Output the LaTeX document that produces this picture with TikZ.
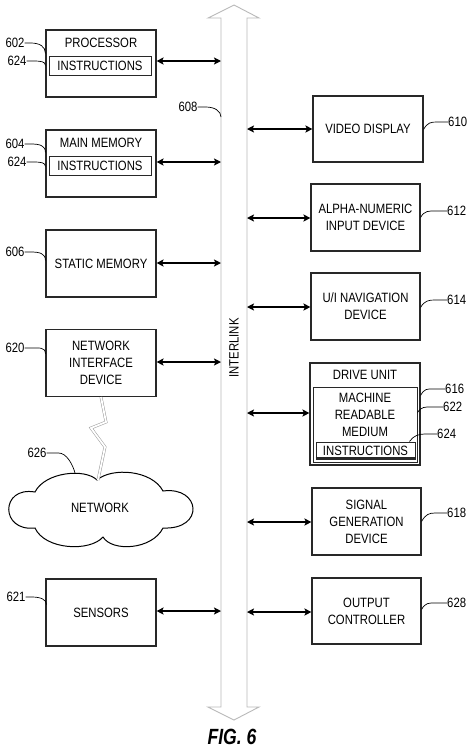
\documentclass[tikz,border=0pt]{standalone}
\usepackage{fontspec}
\setmainfont{Liberation Sans}[FakeStretch=0.84]
\newfontfamily\figfont{Liberation Sans}[FakeStretch=0.8]
\usetikzlibrary{arrows.meta,calc}
\definecolor{boxc}{RGB}{40,40,40}
\definecolor{busc}{RGB}{185,185,185}
\begin{document}
\begin{tikzpicture}[x=1pt,y=-1pt,
  every node/.style={font=\fontsize{13.5}{17}\selectfont, inner sep=0pt, text=black, align=center},
  blk/.style={draw=boxc, line width=1.1pt, minimum width=110pt, minimum height=67pt},
  rblk/.style={draw=boxc, line width=1.1pt, minimum width=109pt, minimum height=67pt},
  ibox/.style={draw=boxc, line width=1pt, minimum width=102pt, minimum height=19pt},
  leader/.style={draw=black, line width=0.7pt},
  biarrow/.style={line width=1.3pt, {Stealth[length=7pt,width=7pt,inset=1.5pt]}-{Stealth[length=7pt,width=7pt,inset=1.5pt]}},
  bus/.style={draw=busc, line width=0.9pt, fill=white},
  bolt/.style={draw=gray!80, line width=0.5pt, double=white, double distance=1.8pt}]
\useasboundingbox (0,0) rectangle (474,750);
\fill[white] (0,0) rectangle (474,750);

% interlink bus
\draw[bus] (221,707) -- (221,18) -- (208,18) -- (234,5) -- (259,18) -- (247,18)
  -- (247,707) -- (259,707) -- (234,720) -- (208,707) -- cycle;
\node[rotate=90] (inter) at (234,348) {INTERLINK};
\coordinate (bL1) at (221,61);
\coordinate (bL2) at (221,162);
\coordinate (bL3) at (221,263);
\coordinate (bL4) at (221,362);
\coordinate (bL5) at (221,611);
\coordinate (bR1) at (247,129);
\coordinate (bR2) at (247,218);
\coordinate (bR3) at (247,307);
\coordinate (bR4) at (247,413);
\coordinate (bR5) at (247,522);
\coordinate (bR6) at (247,612);
\coordinate (b608) at (221,117);

% left column
\node[blk] (proc) at (101,63.5) {};
\node (proct) at (101,43) {PROCESSOR};
\node[ibox] (proci) at (100,65.5) {INSTRUCTIONS};

\node[blk] (mem) at (101,163.5) {};
\node (memt) at (101,143) {MAIN MEMORY};
\node[ibox] (memi) at (100,166) {INSTRUCTIONS};

\node[blk] (stat) at (101,263.5) {STATIC MEMORY};
\node[blk] (nid) at (101,363) {NETWORK\\INTERFACE\\DEVICE};
\node[blk] (sens) at (101,612.5) {SENSORS};

% network cloud
\draw[draw=black, line width=1pt, fill=white]
  (35,492) .. controls (45,472) and (85,468) .. (97,480)
  .. controls (112,467) and (152,470) .. (163,491)
  .. controls (201,486) and (205,530) .. (163,528)
  .. controls (152,550) and (112,552) .. (103,537)
  .. controls (90,552) and (45,550) .. (35,528)
  .. controls (0,532) and (0,486) .. (35,492) -- cycle;
\node (net) at (100,508) {NETWORK};
\coordinate (cloudtop) at (98,480);
\coordinate (cloudleft) at (75,473);
\draw[bolt] (nid.south) -- (106,422) -- (91,428) -- (105,447) -- (cloudtop);

% right column
\node[rblk, minimum width=110pt, minimum height=66pt] (vid) at (368,129) {VIDEO DISPLAY};
\node[rblk] (alpha) at (365.5,217.5) {ALPHA-NUMERIC\\INPUT DEVICE};
\node[rblk] (ui) at (365.5,306.5) {U/I NAVIGATION\\DEVICE};
\node[draw=boxc, line width=1.1pt, minimum width=110pt, minimum height=102pt] (drive) at (365,414) {};
\node (drivet) at (365,375) {DRIVE UNIT};
\node[draw=boxc, line width=1pt, minimum width=104pt, minimum height=75pt] (mrm) at (365,424.5) {};
\node (mrmt) at (365,415) {MACHINE\\READABLE\\MEDIUM};
\node[draw=boxc, line width=1pt, minimum width=99pt, minimum height=17pt] (dins) at (365.5,450.5) {INSTRUCTIONS};
\draw[draw=boxc, line width=2.2pt] ([yshift=1.1pt]dins.south west) -- ([yshift=1.1pt]dins.south east);
\node[rblk] (sig) at (366.5,521.5) {SIGNAL\\GENERATION\\DEVICE};
\node[rblk, minimum height=66pt] (outc) at (366.5,611) {OUTPUT\\CONTROLLER};

\node (fig) at (232,737) {\fontsize{22}{24}\figfont\bfseries\itshape FIG. 6};

% connectors
\draw[biarrow] (bL1 -| proc.east) -- (bL1);
\draw[biarrow] (bL2 -| mem.east) -- (bL2);
\draw[biarrow] (bL3 -| stat.east) -- (bL3);
\draw[biarrow] (bL4 -| nid.east) -- (bL4);
\draw[biarrow] (bL5 -| sens.east) -- (bL5);
\draw[biarrow] (bR1) -- (bR1 -| vid.west);
\draw[biarrow] (bR2) -- (bR2 -| alpha.west);
\draw[biarrow] (bR3) -- (bR3 -| ui.west);
\draw[biarrow] (bR4) -- (bR4 -| drive.west);
\draw[biarrow] (bR5) -- (bR5 -| sig.west);
\draw[biarrow] (bR6) -- (bR6 -| outc.west);

% reference labels, left
\node (l602) at (15,43) {602};
\node (l624a) at (17,61) {624};
\node (l604) at (15,144) {604};
\node (l624b) at (17,162) {624};
\node (l606) at (15,252) {606};
\node (l620) at (15,348) {620};
\node (l626) at (37,453) {626};
\node (l621) at (16,597) {621};
\node (l608) at (188,107) {608};

\draw[leader] (l602.east) -- ++(6,0) .. controls +(9,0) and +(0,-7) .. ($(proc.north west)+(0,24)$);
\draw[leader] (l624a.east) -- ++(6,0) .. controls +(8,0) and +(0,-4) .. ($(proc.north west)+(0,36)$);
\draw[leader] (l604.east) -- ++(6,0) .. controls +(9,0) and +(0,-7) .. ($(mem.north west)+(0,23)$);
\draw[leader] (l624b.east) -- ++(6,0) .. controls +(8,0) and +(0,-4) .. ($(mem.north west)+(0,37)$);
\draw[leader] (l606.east) -- ++(6,0) .. controls +(9,0) and +(0,-7) .. ($(stat.north west)+(0,31)$);
\draw[leader] (l620.east) -- ++(6,0) .. controls +(9,0) and +(0,-7) .. ($(nid.north west)+(0,25)$);
\draw[leader] (l626.east) -- ++(12,0) .. controls +(8,0) and +(-2,-8) .. (cloudleft);
\draw[leader] (l621.east) -- ++(6,0) .. controls +(9,0) and +(0,-5) .. ($(sens.north west)+(1,26)$);
\draw[leader] (l608.east) -- ++(8,0) .. controls +(9,0) and +(0,-6) .. (b608);

% reference labels, right
\node[anchor=west] (l610) at (448,122) {610};
\node[anchor=west] (l612) at (447,211) {612};
\node[anchor=west] (l614) at (447,300) {614};
\node[anchor=west] (l616) at (445,389) {616};
\node[anchor=west] (l622) at (443,407) {622};
\node[anchor=west] (l624c) at (437,434) {624};
\node[anchor=west] (l618) at (447,513) {618};
\node[anchor=west] (l628) at (447,603) {628};

\draw[leader] ($(vid.north east)+(0,34)$) .. controls +(4,-7) and +(-6,0) .. ($(l610.west)+(-11,0)$) -- (l610.west);
\draw[leader] ($(alpha.north east)+(0,34)$) .. controls +(4,-7) and +(-6,0) .. ($(l612.west)+(-12,0)$) -- (l612.west);
\draw[leader] ($(ui.north east)+(0,35)$) .. controls +(4,-7) and +(-6,0) .. ($(l614.west)+(-12,0)$) -- (l614.west);
\draw[leader] ($(drive.north east)+(0,33)$) .. controls +(4,-7) and +(-6,0) .. ($(l616.west)+(-12,0)$) -- (l616.west);
\draw[leader] ($(mrm.north east)+(0,26)$) .. controls +(4,-6) and +(-6,0) .. ($(l622.west)+(-12,0)$) -- (l622.west);
\draw[leader] ($(dins.north east)+(-6,0)$) .. controls +(4,-6) and +(-6,0) .. ($(l624c.west)+(-12,0)$) -- (l624c.west);
\draw[leader] ($(sig.north east)+(0,34)$) .. controls +(4,-7) and +(-6,0) .. ($(l618.west)+(-12,0)$) -- (l618.west);
\draw[leader] ($(outc.north east)+(0,32)$) .. controls +(4,-7) and +(-6,0) .. ($(l628.west)+(-12,0)$) -- (l628.west);
\end{tikzpicture}
\end{document}
